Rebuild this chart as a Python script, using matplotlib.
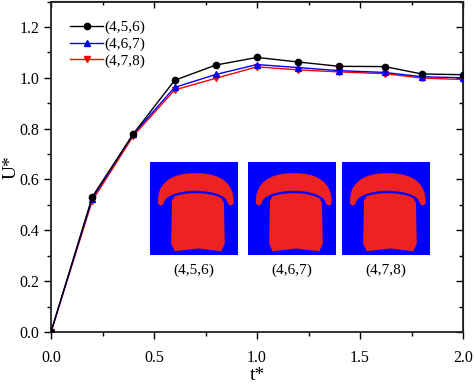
import numpy as np
import matplotlib
matplotlib.use("Agg")
import matplotlib.pyplot as plt
from matplotlib.patches import Polygon, Rectangle
from matplotlib.ticker import MultipleLocator

plt.rcParams['font.family'] = ['Liberation Serif', 'DejaVu Serif']

t = [0.0, 0.2, 0.4, 0.6, 0.8, 1.0, 1.2, 1.4, 1.62, 1.8, 2.0]
u_456 = [0.0, 0.531, 0.780, 0.990, 1.050, 1.080, 1.062, 1.045, 1.044, 1.015, 1.012]
u_467 = [0.0, 0.525, 0.779, 0.962, 1.013, 1.052, 1.040, 1.028, 1.021, 1.004, 1.000]
u_478 = [0.0, 0.516, 0.772, 0.952, 0.998, 1.043, 1.031, 1.023, 1.016, 0.999, 0.993]
labels = ['(4,5,6)', '(4,6,7)', '(4,7,8)']
inset_labels = ['(4,5,6)', '(4,6,7)', '(4,7,8)']
xticks = [0.0, 0.5, 1.0, 1.5, 2.0]
yticks = [0.0, 0.2, 0.4, 0.6, 0.8, 1.0, 1.2]

fig = plt.figure(figsize=(4.74, 3.84), dpi=100)
ax = fig.add_axes([51/474, 1 - 332/384, (463-51)/474, (332-1.5)/384])

ax.plot(t, u_456, color='black', marker='o', ms=4.5, lw=1.0, label=labels[0], zorder=4)
ax.plot(t, u_467, color='#0000ff', marker='^', ms=4.5, lw=1.0, label=labels[1], zorder=3)
ax.plot(t, u_478, color='#ff0000', marker='v', ms=4.5, lw=1.0, label=labels[2], zorder=2)

ax.set_xlim(0, 2.0)
ax.set_ylim(0, 1.3)
ax.set_xticks(xticks)
ax.set_xticklabels([f'{v:.1f}' for v in xticks])
ax.set_yticks(yticks)
ax.set_yticklabels([f'{v:.1f}' for v in yticks])
ax.xaxis.set_minor_locator(MultipleLocator(0.25))
ax.yaxis.set_minor_locator(MultipleLocator(0.1))
ax.tick_params(which='both', direction='out', labelsize=11.5, width=1.0, top=False, right=False)
ax.tick_params(which='major', length=5)
ax.tick_params(which='minor', length=3)
ax.tick_params(axis='x', pad=8)

for s in ax.spines.values():
    s.set_linewidth(1.3)
    s.set_color('#222222')

axt = ax.secondary_xaxis('top')
axt.set_xticks(xticks)
axt.xaxis.set_minor_locator(MultipleLocator(0.25))
axt.tick_params(which='both', direction='in', labeltop=False, width=1.0)
axt.tick_params(which='major', length=5)
axt.tick_params(which='minor', length=3)
axr = ax.secondary_yaxis('right')
axr.set_yticks(yticks)
axr.yaxis.set_minor_locator(MultipleLocator(0.1))
axr.tick_params(which='both', direction='in', labelright=False, width=1.0)
axr.tick_params(which='major', length=5)
axr.tick_params(which='minor', length=3)

ax.set_xlabel('t*', fontsize=14, labelpad=1)
ax.set_ylabel('U*', fontsize=14, labelpad=0)

leg = ax.legend(loc='upper left', bbox_to_anchor=(0.025, 0.97), frameon=False, fontsize=11,
                handlelength=2.1, handletextpad=0.1, labelspacing=0.18, borderaxespad=0.2)

def draw_snapshot(iax):
    iax.add_patch(Rectangle((0, 0), 1, 1, color='#0000ff'))
    red = '#ee2222'
    cx, cy = 0.52, 0.56
    th = np.linspace(0, np.pi, 100)
    c = np.cos(th); s = np.sin(th)
    # superellipse-ish outer edge for a fuller cap
    ox = cx + 0.43*np.sign(c)*np.abs(c)**0.85
    oy = cy + 0.32*s**0.8
    th2 = np.linspace(np.pi, 0, 100)
    ix = cx + 0.36*np.cos(th2)
    iy = cy + 0.13*np.sin(th2)
    # round the tips slightly lower than the inner arch ends
    outline = np.vstack([np.column_stack([ox, oy]),
                         [[cx - 0.42, cy - 0.02], [cx - 0.39, cy - 0.03]],
                         np.column_stack([ix, iy]),
                         [[cx + 0.39, cy - 0.03], [cx + 0.42, cy - 0.02]]])
    iax.add_patch(Polygon(outline, closed=True, color=red, lw=0))
    # body with domed top following the cap's inner arch
    left, right, bottom = 0.25, 0.84, 0.04
    xt = np.linspace(left + 0.03, right - 0.03, 60)
    yt = cy + 0.13*np.sqrt(np.clip(1 - ((xt - cx)/0.36)**2, 0, 1)) - 0.025
    xs = [left, ] + list(xt) + [right, right + 0.01, right - 0.03, 0.55, left + 0.03, left - 0.01]
    ys = [yt[0] - 0.05] + list(yt) + [yt[-1] - 0.05, bottom + 0.08, bottom, bottom + 0.03, bottom, bottom + 0.08]
    iax.add_patch(Polygon(np.column_stack([xs, ys]), closed=True, color=red, lw=0))
    iax.set_xlim(0, 1); iax.set_ylim(0, 1)
    iax.axis('off')

inset_x = [150, 248, 342]
for i, x0 in enumerate(inset_x):
    iax = fig.add_axes([x0/474, 1 - 255/384, 88/474, 93/384])
    draw_snapshot(iax)
    fig.text((x0 + 44)/474, 1 - 270/384, inset_labels[i], ha='center', va='center', fontsize=11)

fig.savefig('out.png', dpi=100)
